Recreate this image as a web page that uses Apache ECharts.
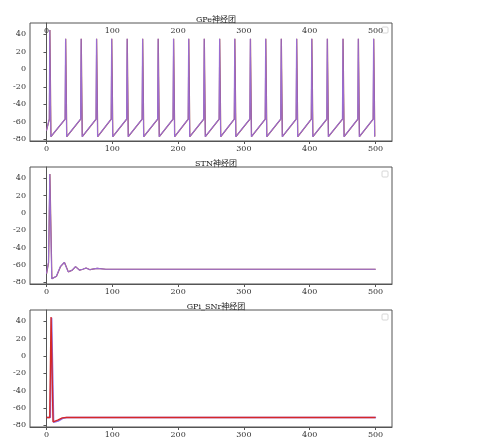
<!DOCTYPE html>
<html><head><meta charset="utf-8">
<script src="https://cdn.jsdelivr.net/npm/echarts@6/dist/echarts.min.js"></script>
<style>html,body{margin:0;padding:0;background:#fff}#main{width:497px;height:439px}</style>
</head><body><div id="main"></div>
<script>
var xTicks = [0, 100, 200, 300, 400, 500];
var titles = ['GPe神经团', 'STN神经团', 'GPi_SNr神经团'];
// GPe spike times (ms) and peaks
var gpeSpikes = [5, 29, 52.6, 76, 99, 122.5, 146, 169.6, 193, 216, 239.6, 263, 286, 309.7, 333, 356.6, 380, 403, 426.6, 450.4, 473.7, 497];
var gpePeaks = [45, 35, 35, 35, 35, 35, 35, 35, 35, 35, 35, 35, 35, 35, 35, 35, 35, 35, 35, 35, 35, 35];
var gpeTrough = -77, gpePreSpike = -57;
// STN membrane trace
var stnT = [0, 3, 5, 8, 15, 21, 27, 33, 39, 44, 50, 55, 60, 66, 72, 77, 90, 500];
var stnV = [-70, -57, 45, -76, -73, -62, -57, -68, -66, -62, -66, -65, -63.5, -65.5, -64.5, -64, -65, -65];
// GPi_SNr traces
var gpiT = [0, 5, 7, 10, 17, 24, 30, 500];
var gpiV = [-71, -71, 45, -76, -74, -71.5, -71, -71];
var gpiV2 = [-71, -71, 44, -76.5, -75, -72, -71, -71];

function gpeData(shift) {
  var pts = [[0, -70]];
  for (var i = 0; i < gpeSpikes.length; i++) {
    var t = gpeSpikes[i] + shift;
    pts.push([t - 0.8, i == 0 ? -57 : gpePreSpike]);
    pts.push([t, gpePeaks[i]]);
    pts.push([t + 1.6, gpeTrough]);
    pts.push([t + 3.2, gpeTrough]);
  }
  pts.push([500, gpeTrough]);
  return pts;
}
function zip(t, v, shift) { var r = []; for (var i = 0; i < t.length; i++) r.push([t[i] + shift, v[i]]); return r; }

var font = '"DejaVu Serif", "Noto Sans CJK SC", serif';
var tops = [23, 167, 310], hts = [118, 117, 117];
var grids = [{left: 30, right: 105, top: -100, height: 100}];
var xAxes = [{gridIndex: 0, type: 'value', min: -25, max: 525, interval: 100, axisLine: {show: false}, axisTick: {show: false}, splitLine: {show: false},
  axisLabel: {fontFamily: font, fontSize: 8, color: '#333', margin: 2, customValues: xTicks}}];
var yAxes = [{gridIndex: 0, type: 'value', show: false}];
var titleArr = [];
for (var g = 0; g < 3; g++) {
  grids.push({left: 30, right: 105, top: tops[g], height: hts[g], show: true, borderColor: '#555', borderWidth: 1});
  xAxes.push({gridIndex: g + 1, type: 'value', min: -25, max: 525,
    axisLine: {onZero: false, lineStyle: {color: '#555'}}, axisTick: {customValues: xTicks, length: 3, lineStyle: {color: '#555'}},
    axisLabel: {customValues: xTicks, fontFamily: font, fontSize: 8, color: '#333', margin: 4}, splitLine: {show: false}});
  yAxes.push({gridIndex: g + 1, type: 'value', min: -82, max: 53,
    axisLine: {show: true, lineStyle: {color: '#555'}}, axisTick: {show: true, customValues: [-80, -60, -40, -20, 0, 20, 40], length: 3, lineStyle: {color: '#555'}},
    axisLabel: {customValues: [-80, -60, -40, -20, 0, 20, 40], fontFamily: font, fontSize: 8, color: '#333', margin: 4}, splitLine: {show: false}});
  titleArr.push({text: titles[g], left: 211, textAlign: 'center', top: tops[g] - 12, textStyle: {fontFamily: font, fontSize: 8, fontWeight: 'normal', color: '#222'}});
}
function line(idx, data, color, w) {
  return {type: 'line', xAxisIndex: idx, yAxisIndex: idx, data: data, showSymbol: false, animation: false, lineStyle: {color: color, width: w}};
}
var series = [
  {type: 'line', xAxisIndex: 0, yAxisIndex: 0, data: []},
  line(1, gpeData(0.3), '#a0524d', 1.2), line(1, gpeData(0), '#9a6cd0', 1.1),
  line(2, zip(stnT, stnV, 0.3), '#a0524d', 1.2), line(2, zip(stnT, stnV, 0), '#9a6cd0', 1.1),
  line(3, zip(gpiT, gpiV2, 0.8), '#8a6ee8', 1.6), line(3, zip(gpiT, gpiV, 0), '#d62728', 1.4)
];
var graphic = [];
for (var g = 0; g < 3; g++) graphic.push({type: 'rect', shape: {x: 382, y: tops[g] + 4, width: 6, height: 6, r: 1}, style: {fill: '#fff', stroke: '#ccc', lineWidth: 0.8}});
var chart = echarts.init(document.getElementById('main'));
chart.setOption({backgroundColor: '#fff', title: titleArr, grid: grids, xAxis: xAxes, yAxis: yAxes, series: series, graphic: graphic});
</script></body></html>
